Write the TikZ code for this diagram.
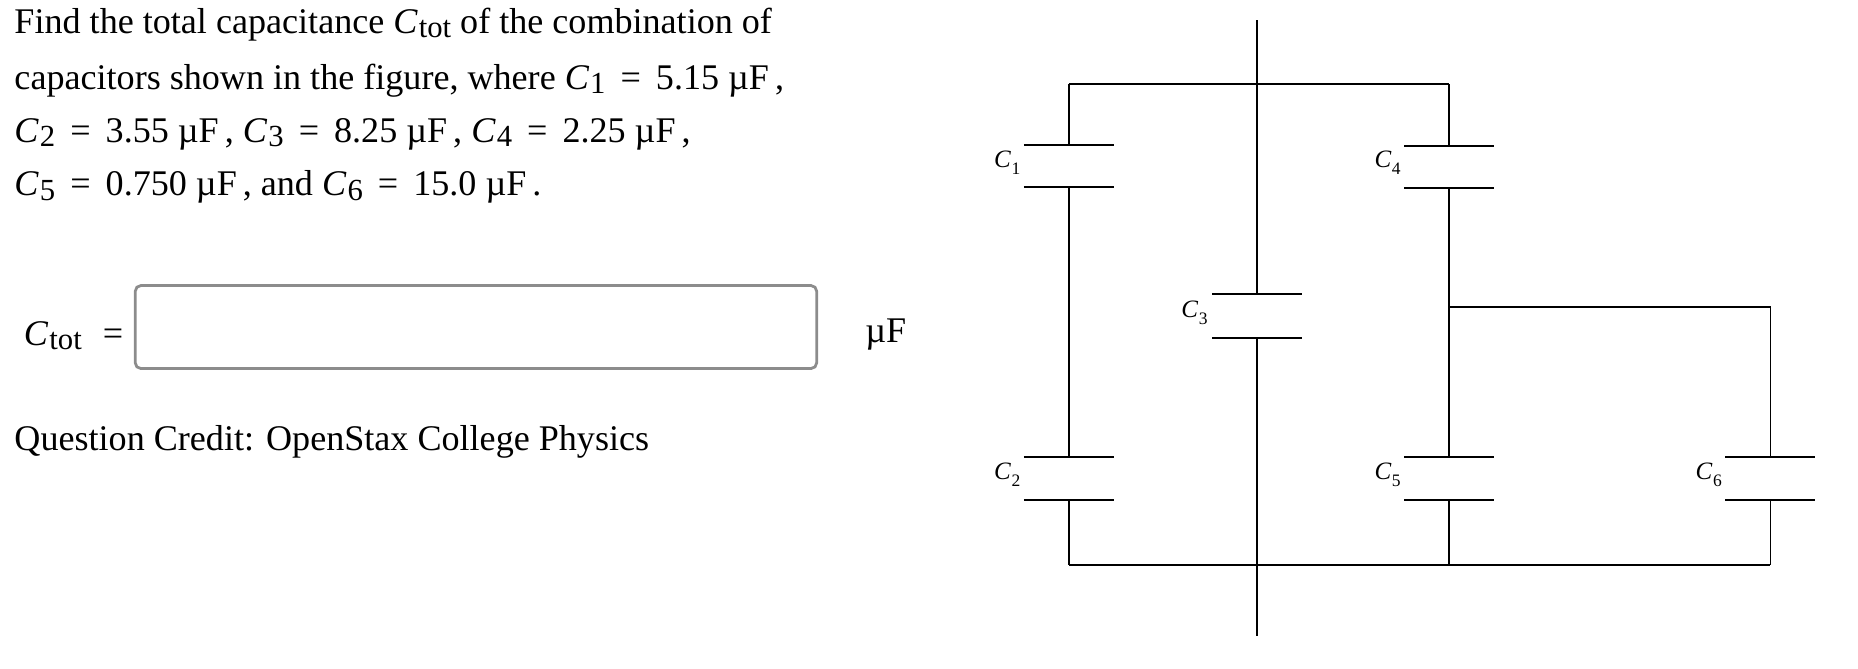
\documentclass[tikz,border=0pt]{standalone}
\usepackage{fontspec}
\setmainfont{Liberation Serif}
\newcommand{\cc}[1]{\textit{C}\kern0.03em\raisebox{-0.25ex}{\scalebox{0.85}{#1}}}
\newcommand{\cl}[1]{\textit{C}\kern0.02em\raisebox{-0.6ex}{\scalebox{0.7}{#1}}}
\begin{document}
\begin{tikzpicture}[x=0.03cm,y=-0.03cm,
  wire/.style={line width=1.2pt},
  plate/.style={line width=1.5pt},
  txt/.style={anchor=west,inner sep=0,font=\fontsize{26}{30}\selectfont},
  clab/.style={inner sep=0,font=\fontsize{18}{20}\selectfont}]
\useasboundingbox (0,0) rectangle (1568,564);
\node[txt] (t1) at (12,21) {Find the total capacitance \cc{tot} of the combination of};
\node[txt] (t2) at (12,68) {capacitors shown in the figure, where \cc{1} \,=\, 5.15 µF\,,};
\node[txt] (t3) at (12,113) {\cc{2} \,=\, 3.55 µF\,, \cc{3} \,=\, 8.25 µF\,, \cc{4} \,=\, 2.25 µF\,,};
\node[txt] (t4) at (12,158) {\cc{5} \,=\, 0.750 µF\,, and \cc{6} \,=\, 15.0 µF\,.};
\node[txt] (ct) at (20,283) {\cc{tot} \,\,=};
\node[draw=gray!90,line width=2pt,rounded corners=4pt,minimum width=575*0.03cm,minimum height=70*0.03cm,anchor=west] (box) at (113,276) {};
\node[txt] (uf) at (730,282) {µF};
\node[txt] (qc) at (12,373) {Question Credit: OpenStax College Physics};
\coordinate (vt) at (1061,17); \coordinate (vb) at (1061,537);
\coordinate (tl) at (902,71); \coordinate (tr) at (1223,71);
\coordinate (bl) at (902,477); \coordinate (br) at (1494,477);
\coordinate (mr) at (1223,259); \coordinate (m6) at (1494,259);
\coordinate (b5) at (1223,477);
\draw[wire] (vt) -- (1061,248);
\draw[wire] (1061,285) -- (vb);
\draw[wire] (tl) -- (tr);
\draw[wire] (bl) -- (br);
\draw[wire] (tl) -- (902,122); \draw[wire] (902,158) -- (902,386); \draw[wire] (902,422) -- (bl);
\draw[wire] (tr) -- (1223,123); \draw[wire] (1223,159) -- (1223,386); \draw[wire] (1223,422) -- (b5);
\draw[wire] (mr) -- (m6) -- (1494,386); \draw[wire] (1494,422) -- (br);
\foreach \x/\ya/\yb in {902/122/158, 902/386/422, 1061/248/285, 1223/123/159, 1223/386/422, 1494/386/422}{
  \draw[plate] (\x-38,\ya) -- (\x+38,\ya);
  \draw[plate] (\x-38,\yb) -- (\x+38,\yb);
}
\node[clab] (l1) at (850,137) {\cl{1}};
\node[clab] (l2) at (850,401) {\cl{2}};
\node[clab] (l3) at (1008,264) {\cl{3}};
\node[clab] (l4) at (1171,137) {\cl{4}};
\node[clab] (l5) at (1171,401) {\cl{5}};
\node[clab] (l6) at (1442,401) {\cl{6}};
\end{tikzpicture}
\end{document}
